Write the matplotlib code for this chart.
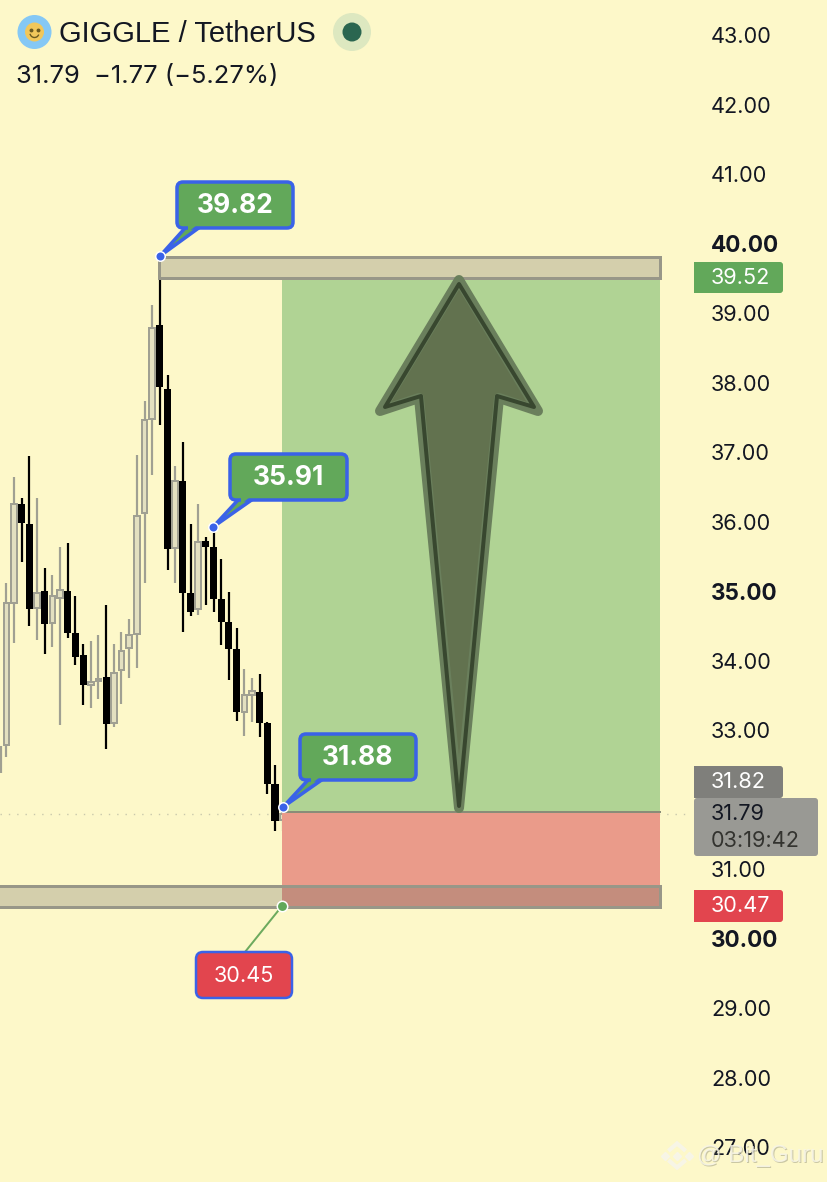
import numpy as np
import matplotlib
matplotlib.use("Agg")
import matplotlib.pyplot as plt
from matplotlib.patches import FancyBboxPatch, Polygon, Rectangle, Circle, Arc

plt.rcParams['font.family'] = ['Inter', 'DejaVu Sans']

# OHLC, oldest bar first
opens = [32.77, 32.78, 34.83, 36.25, 35.96, 34.76, 35.00, 34.54, 34.90, 35.00,
         34.40, 34.08, 33.65, 33.70, 33.76, 33.10, 33.86, 34.18, 34.38, 36.12,
         37.48, 38.83, 37.91, 35.62, 36.58, 34.97, 34.74, 35.72, 35.63, 34.88,
         34.55, 34.16, 33.26, 33.50, 33.55, 33.10, 32.22, 31.70]
highs = [32.77, 35.11, 36.64, 36.34, 36.94, 36.34, 35.33, 35.23, 35.63, 35.69,
         34.93, 34.24, 34.28, 34.37, 34.80, 34.24, 34.41, 34.60, 36.96, 37.74,
         39.12, 39.82, 38.11, 36.80, 37.14, 35.96, 36.25, 35.78, 35.91, 35.46,
         34.99, 34.47, 33.88, 33.75, 33.80, 33.11, 32.50, 31.88]
lows = [32.38, 32.61, 34.25, 35.42, 34.50, 34.30, 34.09, 34.19, 33.07, 34.32,
        33.94, 33.36, 33.32, 33.44, 32.73, 33.05, 33.37, 33.75, 33.89, 35.11,
        36.67, 37.39, 35.30, 35.11, 34.41, 34.64, 34.66, 34.80, 34.70, 34.22,
        33.72, 33.13, 32.91, 33.11, 32.90, 32.08, 31.55, 31.55]
closes = [32.77, 34.83, 36.25, 35.98, 34.74, 34.97, 34.52, 34.93, 35.01, 34.40,
          34.05, 33.65, 33.69, 33.73, 33.09, 33.82, 34.14, 34.37, 36.08, 37.46,
          38.79, 37.94, 35.60, 36.58, 34.97, 34.70, 35.71, 35.63, 34.88, 34.55,
          34.16, 33.26, 33.50, 33.56, 33.10, 32.23, 31.69, 31.79]

price_ticks = [43, 42, 41, 40, 39, 38, 37, 36, 35, 34, 33, 32, 31, 30, 29, 28, 27]
hidden_ticks = [32]
bold_ticks = [40, 35, 30]

target_zone = (39.50, 39.80)
stop_zone = (30.45, 30.76)
entry_price = 31.82

BG = '#fdf8c9'
HOLLOW_FACE = '#e3e0c0'
HOLLOW_EDGE = '#a0a092'
BLUE = '#3a62e8'
GREEN = '#62a85a'
RED = '#e2454e'
INK = '#131722'
ZONE = '#d4cfac'
ZONE_EDGE = '#989788'
TICK_SIZE = 15.6

W, H = 828, 1182
PX = 0.72  # one pixel in points at dpi 100


def y_of(price):
    return 35 + (43 - price) * 69.5


def draw_candles(ax):
    bars = np.arange(len(opens), dtype=float)
    bars[0] += 0.25  # only the wick of the first bar shows at the left edge
    for i, x in enumerate(bars):
        up = closes[i] >= opens[i]
        wick = HOLLOW_EDGE if up else 'black'
        ax.vlines(x, lows[i], highs[i], color=wick, lw=2.2 * PX, zorder=3 + i * 0.01)
        if opens[i] == closes[i]:
            continue
        if up:
            ax.bar(x, closes[i] - opens[i], bottom=opens[i], width=0.72, color=HOLLOW_FACE,
                   edgecolor=HOLLOW_EDGE, linewidth=2 * PX, zorder=3 + i * 0.01)
        else:
            ax.bar(x, closes[i] - opens[i], bottom=opens[i], width=0.92, color='black',
                   linewidth=0, zorder=3 + i * 0.01)


def round_box(ov, x0, y0, x1, y1, face, edge=None, lw=0, rad=5, z=8):
    box = FancyBboxPatch((x0 + rad, y0 + rad), x1 - x0 - 2 * rad, y1 - y0 - 2 * rad,
                         boxstyle=f"round,pad={rad},rounding_size={rad}",
                         fc=face, ec=edge if edge else 'none', lw=lw * PX, zorder=z)
    ov.add_patch(box)


def callout(ov, x0, y0, x1, y1, tip, label):
    # pointer first, then the box, then patch the border where they join
    ov.add_patch(Polygon([tip, (x0 + 9, y1 - 1), (x0 + 23, y1 - 1)], closed=True, fc=GREEN, ec=BLUE,
                         lw=3.5 * PX, joinstyle='round', zorder=8))
    round_box(ov, x0, y0, x1, y1, GREEN, BLUE, 3.5, 6, 8)
    ov.add_patch(Polygon([(x0 + 11, y1 - 3), (x0 + 20, y1 - 3), (x0 + 11, y1 + 4)], closed=True,
                         fc=GREEN, ec='none', zorder=8.1))
    ov.plot(*tip, 'o', ms=9.5 * PX, mfc=BLUE, mec='white', mew=1.5 * PX, zorder=9)
    ov.text((x0 + x1) / 2, (y0 + y1) / 2 + 1, label, color='white', fontsize=19, fontweight='bold',
            ha='center', va='center', zorder=10)


def price_tag(ov, x0, y0, x1, y1, face, label, color='white'):
    round_box(ov, x0, y0, x1, y1, face, rad=3, z=8)
    ov.add_patch(Rectangle((x0, y0), 6, y1 - y0, fc=face, ec='none', zorder=8))
    ov.text(711, (y0 + y1) / 2, label, color=color, fontsize=TICK_SIZE, ha='left', va='center', zorder=9)


def draw_header(ov):
    ov.add_patch(Circle((34.5, 32), 17, fc='#85c8f5', ec='none', zorder=8))
    ov.add_patch(Circle((34.5, 32), 9.5, fc='#f1c75b', ec='none', zorder=9))
    ov.add_patch(Arc((34.5, 33), 9, 9, theta1=20, theta2=170, ec='#6b5a20', lw=1, zorder=10))
    ov.plot([31, 38], [29.5, 29.5], ls='none', marker='o', ms=1.8, color='#6b5a20', zorder=10)
    ov.text(59, 33.5, 'GIGGLE / TetherUS', color=INK, fontsize=21, family='Liberation Sans',
            ha='left', va='center', zorder=9)
    ov.text(16, 76.5, '31.79  \u22121.77 (\u22125.27%)', color=INK, fontsize=18.4, ha='left', va='center', zorder=9)
    ov.add_patch(Circle((352, 32), 19, fc='#dde8c0', ec='none', zorder=8))
    ov.add_patch(Circle((352, 32), 9.5, fc='#2a6650', ec='none', zorder=9))


def draw_watermark(ov):
    col = '#f7f5e8'
    cx, cy = 677, 1155.5
    ov.plot([cx, cx - 12, cx + 12], [cy, cy, cy], ls='none', marker='D', ms=4.5, color=col, alpha=0.95, zorder=20)
    for sgn in (-1, 1):
        ov.plot([cx - 7, cx, cx + 7], [cy + sgn * 6, cy + sgn * 12, cy + sgn * 6], color=col, lw=3, alpha=0.95,
                solid_joinstyle='miter', zorder=20)
    ov.text(697.7, 1156.7, '@ Bit_Guru', color='#8d8c78', alpha=0.45, fontsize=17.4, family='Liberation Sans',
            ha='left', va='center', zorder=19)
    ov.text(697, 1156, '@ Bit_Guru', color=col, alpha=0.85, fontsize=17.4, family='Liberation Sans',
            ha='left', va='center', zorder=20)


def main():
    fig = plt.figure(figsize=(W / 100, H / 100), dpi=100, facecolor=BG)

    # price axes fill the whole picture, one bar is 7.677 px wide
    ax = fig.add_axes([0, 0, 1, 1], facecolor=BG)
    ax.set_xlim(37 - 282.7 / 7.677, 37 + (W - 282.7) / 7.677)
    ax.set_ylim(43 - (H - 35) / 69.5, 43 + 35 / 69.5)
    for s in ax.spines.values():
        s.set_visible(False)
    ax.set_xticks([])
    shown = [t for t in price_ticks if t not in hidden_ticks]
    ax.yaxis.tick_right()
    ax.set_yticks(shown)
    ax.set_yticklabels([f"{t:.2f}" for t in shown])
    ax.tick_params(axis='y', length=0, pad=-(W - 711) * PX, labelsize=TICK_SIZE, labelcolor=INK)
    for t, lab in zip(shown, ax.get_yticklabels()):
        if t in bold_ticks:
            lab.set_fontweight('bold')
            lab.set_fontsize(16.2)

    draw_candles(ax)
    ax.axhline(closes[-1], xmax=690 / W, color='#c9c8ac', lw=1, ls=(0, (1, 5)), zorder=1)

    # overlay in picture pixels for the drawings on top of the chart
    ov = fig.add_axes([0, 0, 1, 1], facecolor='none')
    ov.set_xlim(0, W)
    ov.set_ylim(H, 0)
    ov.axis('off')

    y_entry = y_of(entry_price)
    y_stop = y_of(stop_zone[0])
    y_target = y_of(target_zone[0])
    ov.add_patch(Rectangle((282, y_target), 378, y_entry - y_target, fc='#b0d394', ec='none', zorder=2))
    ov.add_patch(Rectangle((282, y_entry), 378, y_stop - y_entry, fc='#ea9b8a', ec='none', zorder=2))
    ov.plot([282, 660], [y_entry, y_entry], color='#8a8c78', lw=2 * PX, zorder=2.5)

    # zones, the stop zone goes reddish where it crosses the loss box
    top, bot = y_of(target_zone[1]), y_of(target_zone[0])
    ov.add_patch(Rectangle((159, top), 501, bot - top, fc=ZONE, ec=ZONE_EDGE, lw=3 * PX, zorder=4))
    top, bot = y_of(stop_zone[1]), y_of(stop_zone[0])
    ov.add_patch(Rectangle((-5, top), 287, bot - top, fc=ZONE, ec='none', zorder=4))
    ov.add_patch(Rectangle((282, top), 378, bot - top, fc='#c48d7d', ec='none', zorder=4))
    ov.add_patch(Rectangle((-5, top), 665, bot - top, fc='none', ec=ZONE_EDGE, lw=3 * PX, zorder=4.1))

    # the big arrow: pale halo, fill, dark core line
    halo = [(459, 280), (380, 411), (419, 398), (459, 808), (499, 398), (538, 411)]
    core = [(459, 284), (385, 407), (421, 396), (459, 806), (497, 396), (534, 407)]
    ov.add_patch(Polygon(halo, closed=True, fc='#62724f', ec='#6a7f5c', lw=10 * PX, joinstyle='round', zorder=5))
    ov.add_patch(Polygon(core, closed=True, fc='none', ec='#38472f', lw=4 * PX, joinstyle='round', zorder=5.1))

    callout(ov, 177, 182, 293, 228, (160, 256), '39.82')
    callout(ov, 230, 454, 347, 500, (213, 527), '35.91')
    callout(ov, 300, 734, 416, 780, (283, 807), '31.88')

    # stop label hangs off the low point
    ov.plot([282, 245], [906, 952], color='#6daa5e', lw=2 * PX, zorder=7)
    ov.plot(282, 906, 'o', ms=7.5, mfc='#62a85a', mec='white', mew=1.5 * PX, zorder=9)
    round_box(ov, 196, 952, 292, 998, RED, BLUE, 2.5, 7, 8)
    ov.text(244, 975.5, '30.45', color='white', fontsize=TICK_SIZE, ha='center', va='center', zorder=9)

    price_tag(ov, 694, 262, 783, 293, GREEN, '39.52')
    price_tag(ov, 694, 766, 783, 798, '#7f7f7b', '31.82')
    price_tag(ov, 694, 890, 783, 922, RED, '30.47')
    round_box(ov, 694, 798, 818, 856, '#999994', rad=3, z=8)
    ov.text(711, 814, '31.79', color=INK, fontsize=TICK_SIZE, ha='left', va='center', zorder=9)
    ov.text(711, 841, '03:19:42', color='#33332f', fontsize=TICK_SIZE, ha='left', va='center', zorder=9)

    draw_header(ov)
    draw_watermark(ov)

    fig.savefig('out.png', dpi=100, facecolor=BG)


if __name__ == "__main__":
    main()
